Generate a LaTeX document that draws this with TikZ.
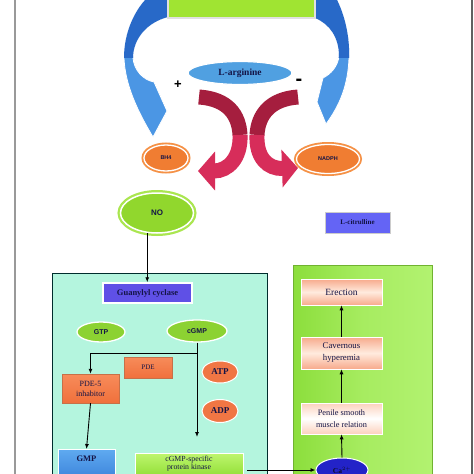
\documentclass[tikz,border=0pt]{standalone}
\usepackage{fontspec}
\setmainfont{Liberation Serif}
\newfontfamily\sansf{Liberation Sans}
\usetikzlibrary{shapes.geometric,arrows.meta}
\definecolor{topgreen}{RGB}{160,228,50}
\definecolor{bluedark}{RGB}{40,105,200}
\definecolor{bluelight}{RGB}{75,150,228}
\definecolor{argblue}{RGB}{80,160,225}
\definecolor{crimson}{RGB}{165,30,62}
\definecolor{pinkred}{RGB}{215,45,90}
\definecolor{orng}{RGB}{240,125,50}
\definecolor{orngring}{RGB}{245,145,70}
\definecolor{nogreen}{RGB}{145,215,45}
\definecolor{noring}{RGB}{170,230,80}
\definecolor{violet}{RGB}{100,100,245}
\definecolor{guanc}{RGB}{95,80,230}
\definecolor{gtpgreen}{RGB}{140,210,50}
\definecolor{mint}{RGB}{180,245,222}
\definecolor{panelg}{RGB}{140,222,60}
\definecolor{panelgl}{RGB}{178,242,112}
\definecolor{navy}{RGB}{20,20,70}
\definecolor{salmon}{RGB}{247,170,140}
\definecolor{salmonl}{RGB}{255,235,222}
\definecolor{pdeor}{RGB}{247,140,90}
\definecolor{pdeord}{RGB}{240,112,60}
\definecolor{atpor}{RGB}{240,118,68}
\definecolor{gmpl}{RGB}{95,170,240}
\definecolor{gmpd}{RGB}{45,115,210}
\definecolor{kinl}{RGB}{190,245,110}
\definecolor{kind}{RGB}{150,225,60}
\definecolor{cablue}{RGB}{35,35,200}
\tikzset{
  arr/.style={draw=black, line width=0.9pt, -{Latex[length=5pt,width=4pt]}},
  ringo/.style={ellipse, inner sep=0pt, fill=orng, draw=white, line width=1.3pt,
    preaction={draw=orngring, line width=5pt}, text=navy, font=\sansf\bfseries\fontsize{5.5pt}{6pt}\selectfont},
  ringg/.style={ellipse, inner sep=0pt, fill=nogreen, draw=white, line width=1.5pt,
    preaction={draw=noring, line width=6pt}, text=navy, font=\sansf\bfseries\fontsize{8pt}{9pt}\selectfont},
  gell/.style={ellipse, inner sep=0pt, fill=gtpgreen, draw=white, line width=1.3pt, text=navy,
    font=\sansf\bfseries\fontsize{7pt}{8pt}\selectfont},
  oell/.style={ellipse, inner sep=0pt, fill=atpor, draw=white, line width=1pt, text=navy,
    font=\bfseries\fontsize{9pt}{10pt}\selectfont},
  obox/.style={rectangle, inner sep=0pt, top color=pdeor, bottom color=pdeord, draw=pdeor!80!black, line width=0.4pt,
    text=navy, align=center},
  pbox/.style={rectangle, inner sep=0pt, top color=salmon, bottom color=salmon, middle color=salmonl,
    draw=white, line width=0.6pt, text=navy, align=center, minimum width=81pt},
  vbox/.style={rectangle, inner sep=0pt, draw=white, line width=1.5pt, text=navy,
    font=\bfseries\fontsize{8.5pt}{9pt}\selectfont},
}
\begin{document}
\begin{tikzpicture}[x=1pt,y=-1pt]
\useasboundingbox (0,0) rectangle (474,474);
\clip (0,0) rectangle (474,474);
\fill[white] (0,0) rectangle (474,474);
% frame lines
\draw[black!40, line width=2pt] (15,-2) -- (15,476);
\draw[black!62, line width=2pt] (472,-2) -- (472,476);

% panels
\node[rectangle, anchor=north west, inner sep=0pt, minimum width=215pt, minimum height=215pt,
  fill=mint, draw=black!65!teal, line width=1pt] (pa) at (52,273) {};
\node[rectangle, anchor=north west, inner sep=0pt, minimum width=139pt, minimum height=220pt,
  left color=panelg, right color=panelgl, middle color=panelgl!70!panelg, draw=panelg!80!black, line width=0.5pt] (pb) at (293,265) {};

% blue curved arrows
\filldraw[fill=bluelight, draw=white, line width=0.8pt]
  (147,-2) .. controls (135,10) and (124,32) .. (124,58)
  .. controls (125,85) and (138,112) .. (153,137)
  -- (167,111) -- (154,82)
  .. controls (143,80) and (134,70) .. (133,58)
  .. controls (133,38) and (148,22) .. (168,17) -- (168,-2) -- cycle;
\begin{scope}
\clip (0,-5) rectangle (474,57.5);
\fill[bluedark]
  (147,-2) .. controls (135,10) and (124,32) .. (124,58)
  .. controls (125,85) and (138,112) .. (153,137)
  -- (167,111) -- (154,82)
  .. controls (143,80) and (134,70) .. (133,58)
  .. controls (133,38) and (148,22) .. (168,17) -- (168,-2) -- cycle;
\end{scope}
\filldraw[fill=bluelight, draw=white, line width=0.8pt]
  (336,-2) .. controls (345,15) and (350,38) .. (349,58)
  .. controls (348,85) and (340,105) .. (326,124)
  -- (317,102) -- (323,78)
  .. controls (331,74) and (338,66) .. (339,56)
  .. controls (339,38) and (330,24) .. (315,18) -- (315,-2) -- cycle;
\begin{scope}
\clip (0,-5) rectangle (474,57.5);
\fill[bluedark]
  (336,-2) .. controls (345,15) and (350,38) .. (349,58)
  .. controls (348,85) and (340,105) .. (326,124)
  -- (317,102) -- (323,78)
  .. controls (331,74) and (338,66) .. (339,56)
  .. controls (339,38) and (330,24) .. (315,18) -- (315,-2) -- cycle;
\end{scope}

% top green box
\node[rectangle, inner sep=0pt, minimum width=147pt, minimum height=20pt, fill=topgreen,
  draw=black!12, line width=1.5pt] (top) at (241.5,8) {};

% crimson crossing arrows
\draw[white, line width=17pt] (199,97) .. controls (228,99) and (239,115) .. (240,135);
\draw[white, line width=17pt] (298,97) .. controls (270,99) and (258,115) .. (257,135);
\draw[crimson, line width=15pt] (199,97) .. controls (228,99) and (239,115) .. (240,135);
\draw[pinkred, line width=15pt, -{Triangle[width=38pt,length=17pt]}]
  (240,135) .. controls (241,158) and (228,171) .. (198,171);
\draw[crimson, line width=15pt] (298,97) .. controls (270,99) and (258,115) .. (257,135);
\draw[pinkred, line width=15pt, -{Triangle[width=37pt,length=16pt]}]
  (257,135) .. controls (256,158) and (268,169) .. (298,168);

% L-arginine
\node[ellipse, inner sep=0pt, minimum width=104pt, minimum height=23pt, fill=argblue,
  draw=white, line width=1.2pt, text=navy, font=\bfseries\fontsize{9.5pt}{10pt}\selectfont] (larg) at (240,73) {L-arginine};
\node[font=\sansf\bfseries\fontsize{13pt}{13pt}\selectfont, inner sep=0pt] (plus) at (178,85) {+};
\node[font=\sansf\bfseries\fontsize{20pt}{20pt}\selectfont, inner sep=0pt] (minus) at (299,82) {-};

% BH4, NADPH, NO
\node[ringo, minimum width=44pt, minimum height=26pt] (bh4) at (166,158) {BH4};
\node[ringo, minimum width=63pt, minimum height=29pt] (nadph) at (328,159) {NADPH};
\node[ringg, minimum width=73pt, minimum height=40pt] (no) at (157,213) {NO};

% L-citrulline
\node[rectangle, inner sep=0pt, minimum width=65pt, minimum height=21pt, fill=violet,
  draw=black!20, line width=0.6pt, text=navy, font=\bfseries\fontsize{7pt}{8pt}\selectfont] (cit) at (357.5,222.5) {L-citrulline};

% left panel content
\node[vbox, fill=guanc, minimum width=89pt, minimum height=20pt] (guan) at (147.5,293) {Guanylyl cyclase};
\node[gell, minimum width=48pt, minimum height=20pt] (gtp) at (101,332) {GTP};
\node[gell, minimum width=60pt, minimum height=22pt] (cgmp) at (197,331) {cGMP};
\node[obox, minimum width=48pt, minimum height=21pt, font=\fontsize{7pt}{8pt}\selectfont] (pde) at (148,367.5) {PDE};
\node[obox, minimum width=57pt, minimum height=29pt, font=\fontsize{8pt}{10pt}\selectfont] (pde5) at (90.5,388.5) {PDE-5\\inhabitor};
\node[oell, minimum width=36pt, minimum height=22pt] (atp) at (220,372) {ATP};
\node[oell, minimum width=36pt, minimum height=23pt] (adp) at (220,411) {ADP};
\node[rectangle, anchor=north, inner xsep=0pt, inner ysep=3pt, minimum width=57pt, text height=9pt, text depth=28pt,
  top color=gmpl, bottom color=gmpd, draw=white, line width=0.6pt, text=navy,
  font=\bfseries\fontsize{8.5pt}{9pt}\selectfont] (gmp) at (86.5,449) {GMP};
\node[rectangle, anchor=north, inner xsep=0pt, inner ysep=2.5pt, minimum width=108pt, align=center,
  top color=kinl, bottom color=kind, draw=white, line width=0.6pt, text=navy,
  font=\fontsize{7.8pt}{8.6pt}\selectfont] (kin) at (189,453) {cGMP-specific\\protein kinase};

% right panel content
\node[pbox, minimum height=26pt, font=\fontsize{9.5pt}{11pt}\selectfont] (erect) at (341.5,292) {Erection};
\node[pbox, minimum height=32pt, font=\fontsize{8.8pt}{12pt}\selectfont] (cav) at (341.5,353) {Cavernous\\hyperemia};
\node[pbox, minimum height=31pt, top color=salmonl!60!salmon, bottom color=salmonl!60!salmon, middle color=white,
  font=\fontsize{8.3pt}{12pt}\selectfont] (pen) at (341.5,418.5) {Penile smooth\\muscle relation};
\node[ellipse, inner sep=0pt, minimum width=52pt, minimum height=24pt, fill=cablue, draw=white, line width=1pt,
  text=navy!60!black, font=\bfseries\fontsize{7.5pt}{8pt}\selectfont] (ca) at (342,470) {Ca$^{2+}$};

% connectors
\draw[arr] (no.244) -- (no.244 |- guan.north);
\draw[arr, shorten >=16pt] (cgmp.south) -- (cgmp.south |- kin.north);
\draw[arr] ([yshift=-11pt]cgmp.south) -| (pde5.north);
\draw[arr] (pde5.south) -- (gmp.north);
\draw[arr, shorten <=4pt] (kin.east |- ca.west) -- (ca.west);
\draw[arr] (ca.north) -- (pen.south);
\draw[arr] (pen.north) -- (cav.south);
\draw[arr] (cav.north) -- (erect.south);
\end{tikzpicture}
\end{document}
